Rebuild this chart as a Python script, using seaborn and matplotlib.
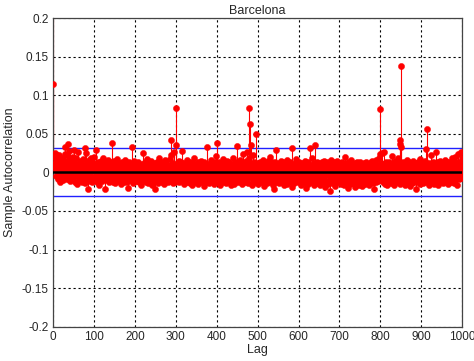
import numpy as np
import pandas as pd
import matplotlib
matplotlib.use("Agg")
import matplotlib.pyplot as plt
import seaborn as sns

title = "Barcelona"
xlabel = "Lag"
ylabel = "Sample Autocorrelation"
xticks = list(range(0, 1001, 100))
yticks = [-0.2, -0.15, -0.1, -0.05, 0, 0.05, 0.1, 0.15, 0.2]
ytick_labels = ["-0.2", "-0.15", "-0.1", "-0.05", "0", "0.05", "0.1", "0.15", "0.2"]
conf_bound = 0.031
lag0_value = 1.0

# autocorrelation at lags 1..1000, in thousandths (read/estimated from picture)
acf_milli = [
115,20,8,25,12,-5,18,3,22,10,-8,14,6,-3,22,9,-12,5,16,-2,11,-7,19,4,-10,13,2,24,-4,33,8,-6,15,1,-9,21,37,12,-3,28,5,-11,17,7,-5,10,-1,20,3,29,
-6,14,2,-13,9,18,-4,6,-15,11,3,26,-7,8,-2,15,-9,4,12,-12,7,-3,17,1,-8,10,-14,32,-1,25,6,-10,13,-5,2,-22,9,-4,16,0,-11,7,18,-6,3,-13,12,5,-8,20,
2,-7,11,29,-3,8,-12,5,14,-6,1,10,-16,7,3,-9,15,-2,6,-11,9,-4,18,0,-8,12,-21,4,-5,13,7,-10,2,16,-3,8,-13,5,11,-7,3,14,38,-4,9,-12,6,-1,15,-8,
4,-14,10,2,-6,17,-3,8,-11,5,12,-8,1,9,-15,6,-2,14,3,-9,11,-5,7,-13,2,16,-7,4,10,-4,-12,8,1,-20,13,-6,5,-10,9,2,-3,33,-8,6,-14,11,0,-5,15,-9,
7,-2,12,-11,3,9,-6,14,-1,-13,5,10,-4,8,-16,2,11,-7,25,4,-10,6,-3,13,-8,1,9,-12,5,17,-5,3,-14,8,0,11,-9,6,-2,15,-6,4,-17,9,2,-11,12,-4,-21,7,
3,-8,13,-2,10,-14,5,18,-6,1,9,-10,4,-3,14,-12,7,2,-7,11,-15,6,16,-4,3,-9,12,-1,8,-13,5,10,-6,2,17,-11,6,22,42,-5,9,-14,4,12,-8,26,-2,7,-12,84,
36,-6,11,3,-10,8,-3,15,-13,5,1,-7,13,-2,9,28,-11,4,-5,12,-15,7,2,-9,10,-4,16,-12,6,-1,11,-8,3,14,-14,5,-6,9,-3,-17,12,1,-10,7,18,-5,4,-13,8,-2,
10,-9,5,-15,13,2,-6,9,-11,4,15,-3,7,-13,1,11,-7,3,-18,14,-4,8,-10,6,0,33,-12,5,9,-6,2,-14,12,-1,7,-9,16,-5,3,-11,10,-3,6,-15,13,1,-8,21,4,38,
-5,8,-12,3,14,-7,10,-2,-16,6,12,-9,4,-3,17,-13,7,1,-10,11,-5,9,-14,2,15,-6,5,-11,8,-1,13,-8,3,-17,10,-4,6,-12,19,0,-7,12,-15,5,9,-3,14,-9,34,-6,
7,-13,11,2,-8,16,-4,9,-11,5,-2,13,-15,6,24,-7,10,1,-12,8,-5,15,-9,27,3,-14,11,18,-6,84,63,12,36,-3,9,-17,5,22,-10,14,-4,7,-13,10,50,-8,3,-11,12,-2,
6,-15,9,1,-9,13,-5,7,-12,3,11,-4,16,-10,5,-18,8,-1,12,-7,4,-14,10,2,-6,15,-11,6,-3,20,-13,9,0,-8,14,-5,3,-16,11,-22,7,-9,13,-2,29,-12,5,1,-10,8,
-4,12,-14,6,2,-9,15,-6,9,-12,4,13,-3,-17,8,1,-10,11,-5,7,-15,16,-8,3,10,-2,-13,9,-6,14,-11,5,0,-19,32,-7,10,-4,6,-14,12,-1,8,-10,17,-6,4,-13,11,2,
-9,14,-5,7,-16,10,2,-11,12,-3,6,-14,9,1,-8,15,-12,5,-20,11,-4,8,-15,13,0,-7,32,-10,6,3,-13,10,-5,18,-9,4,-17,12,-2,7,36,-11,5,-6,14,-14,9,1,-8,12,
-3,6,-16,11,2,-10,13,-6,8,-13,4,15,-8,-19,10,1,-11,7,-4,14,-15,9,-2,6,-12,-24,11,3,-9,16,-6,5,-14,10,0,-8,13,-18,7,-3,11,-11,4,-7,15,-13,8,2,-10,9,
-5,12,-15,6,1,-9,14,-12,7,-4,10,-17,5,20,-8,3,-13,11,-6,8,-20,13,-2,6,-11,9,-15,4,16,-7,10,-3,-14,7,1,-10,12,-5,-19,8,-2,14,-12,5,-7,11,-16,9,0,-9,
13,-4,6,-13,10,-18,8,1,-11,12,-6,4,-15,9,14,-3,7,-12,5,-8,11,-16,3,10,-5,13,-10,6,-2,15,-14,8,-7,-21,4,11,-9,2,16,-13,7,-4,10,-11,5,18,-6,9,24,82,
-3,12,-8,5,25,-12,7,-2,11,26,-15,6,-6,13,-10,4,-17,9,1,-7,14,-12,8,-3,10,-14,5,21,-9,12,-5,3,-16,9,-1,15,-11,6,-4,11,-13,7,18,-8,13,-2,-15,37,42,138,
33,-10,9,-3,14,-12,5,1,-8,12,-16,7,-5,16,-9,4,-13,10,2,-7,13,-18,6,-2,11,-11,8,-14,5,15,-6,9,-12,3,-4,12,-21,8,1,-9,14,-13,6,-3,10,-15,17,-6,4,-11,
8,-4,13,-14,6,1,-10,15,-7,3,-12,30,56,-5,10,-9,5,-16,12,-2,7,-13,9,22,-6,4,-11,14,-3,8,-15,11,0,-8,26,-12,6,-4,13,-10,7,-17,10,2,-6,15,-13,8,-1,-9,
12,-5,7,-14,11,3,-9,16,-6,5,-12,9,-3,14,-15,8,1,-10,13,-7,6,-13,11,19,-4,10,-11,5,-2,15,-14,9,20,-8,12,-3,6,-16,10,24,-6,13,-9,4,-2,26,11,-7,18,8,
]

acf = [lag0_value] + [v / 1000.0 for v in acf_milli]
df = pd.DataFrame({"lag": np.arange(len(acf)), "acf": acf})

sns.set_style("white")
plt.rcParams["font.family"] = ["Liberation Sans", "DejaVu Sans"]

fig = plt.figure(figsize=(4.74, 3.61), dpi=100)
ax = fig.add_axes([0.112, 0.095, 0.863, 0.855])

red = "#ff0000"
ax.vlines(df["lag"], 0, df["acf"], colors=red, linewidth=0.8, zorder=2)
sns.scatterplot(data=df, x="lag", y="acf", ax=ax, color=red, s=20,
                edgecolor=red, linewidth=0.3, zorder=3, legend=False)
ax.axhline(0, color="black", linewidth=1.8, zorder=4)
ax.axhline(conf_bound, color="#2020ff", linewidth=1.0, zorder=1)
ax.axhline(-conf_bound, color="#2020ff", linewidth=1.0, zorder=1)

ax.set_xlim(0, 1000)
ax.set_ylim(-0.2, 0.2)
ax.set_xticks(xticks)
ax.set_yticks(yticks)
ax.set_yticklabels(ytick_labels)
ax.grid(True, color="black", linestyle=(0, (2, 2.5)), linewidth=0.8)
ax.set_axisbelow(True)
for s in ax.spines.values():
    s.set_color("#444444")
    s.set_linewidth(0.9)
ax.tick_params(axis="both", labelsize=8.5, length=3, direction="in", pad=3)
ax.set_title(title, fontsize=9, pad=3)
ax.set_xlabel(xlabel, fontsize=9, labelpad=1)
ax.set_ylabel(ylabel, fontsize=9, labelpad=4)

fig.savefig("out.png", dpi=100)
